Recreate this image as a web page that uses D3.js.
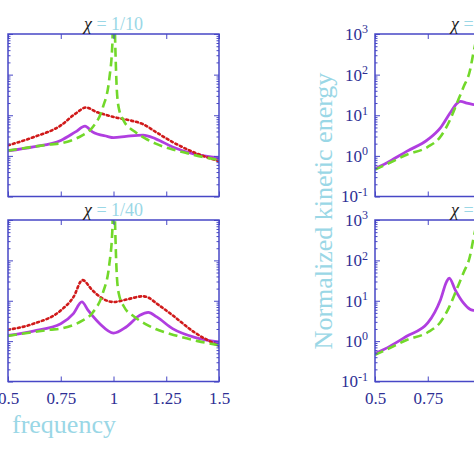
<!DOCTYPE html>
<html>
<head>
<meta charset="utf-8">
<script src="https://cdn.jsdelivr.net/npm/d3@7"></script>
<style>
  body { margin: 0; background: #fff; }
  svg { display: block; }
  text { font-family: "Liberation Serif", "Times New Roman", serif; }
</style>
</head>
<body>
<div id="chart"></div>
<script>
// tick values and panel titles
var freqTicks = [0.5, 0.75, 1, 1.25, 1.5];
var energyTicks = [0.1, 1, 10, 100, 1000];
var energyExp = ["-1", "0", "1", "2", "3"];
var chiLabels = ["1/10", "1/40"];

// left column, uncoupled (green dashed), same in both rows
var greenLeftF = [0.5, 0.6, 0.7, 0.75, 0.8, 0.85, 0.9, 0.95, 0.98, 0.995, 1.0, 1.008, 1.015, 1.025, 1.05, 1.1, 1.15, 1.2, 1.3, 1.4, 1.5];
var greenLeftV = [1.35, 1.62, 1.91, 2.04, 2.4, 3.16, 5.0, 15.8, 79, 630, 31600, 630, 50, 15.1, 7.1, 3.98, 2.69, 2.0, 1.35, 1.0, 0.79];

// left column, chi = 1/10
var purpleTopF = [0.5, 0.62, 0.75, 0.82, 0.865, 0.9, 0.97, 1.0, 1.06, 1.14, 1.2, 1.28, 1.38, 1.5];
var purpleTopV = [1.32, 1.66, 2.4, 3.89, 5.37, 3.89, 3.02, 2.82, 3.02, 3.24, 2.63, 1.66, 1.12, 0.89];
var redTopF = [0.5, 0.62, 0.75, 0.82, 0.87, 0.92, 0.97, 1.015, 1.09, 1.14, 1.2, 1.28, 1.38, 1.5];
var redTopV = [1.82, 2.88, 5.62, 10.96, 15.5, 12.0, 10.0, 8.71, 7.24, 6.03, 3.89, 2.19, 1.23, 0.74];

// left column, chi = 1/40
var purpleBotF = [0.5, 0.62, 0.75, 0.81, 0.85, 0.88, 0.935, 1.0, 1.06, 1.125, 1.165, 1.205, 1.28, 1.38, 1.5];
var purpleBotV = [1.38, 1.78, 2.69, 4.79, 9.33, 5.75, 2.69, 1.58, 2.24, 4.37, 5.13, 3.98, 2.04, 1.26, 0.95];
var redBotF = [0.5, 0.62, 0.75, 0.81, 0.853, 0.9, 0.95, 1.0, 1.06, 1.14, 1.165, 1.205, 1.28, 1.38, 1.5];
var redBotV = [1.91, 2.69, 5.75, 12.3, 32.4, 18.2, 11.2, 9.33, 10.7, 12.9, 12.0, 8.51, 4.37, 1.7, 0.76];

// right column (only the left part is visible)
var greenRightF = [0.5, 0.57, 0.65, 0.75, 0.81, 0.855, 0.89, 0.92, 0.95, 0.965, 0.98, 0.995, 1.0];
var greenRightV = [0.457, 0.676, 1.07, 1.66, 2.95, 7.59, 20.9, 50.1, 126, 316, 794, 3981, 100000];
var purpleRTopF = [0.5, 0.57, 0.65, 0.75, 0.81, 0.855, 0.89, 0.905, 0.935, 0.97, 1.0];
var purpleRTopV = [0.479, 0.741, 1.29, 2.51, 4.9, 11.2, 20.0, 21.9, 20.0, 18.2, 16.6];
var purpleRBotF = [0.5, 0.57, 0.65, 0.75, 0.81, 0.84, 0.852, 0.88, 0.92, 0.95, 0.97, 1.0];
var purpleRBotV = [0.49, 0.741, 1.32, 2.82, 10.5, 30.2, 36.3, 18.6, 8.71, 6.17, 5.75, 5.5];

function zip(f, v) {
  return f.map(function (d, i) { return { f: d, v: v[i] }; });
}

// colours
var frameColor = "#4747c6";
var tickText = "#2e2e94";
var labelColor = "#9ad7e6";
var styles = {
  purple: { stroke: "#b03ee0", dash: null },
  red: { stroke: "#d01a1a", dash: "2,3" },
  green: { stroke: "#72d82a", dash: "9,5" }
};

var W = 474, H = 474;
var svg = d3.select("#chart").append("svg")
  .attr("width", W).attr("height", H);

var cols = [{ x0: 8, x1: 219 }, { x0: 375, x1: 586 }];
var rows = [{ y0: 34, y1: 196.5 }, { y0: 220, y1: 381.5 }];

var panels = [
  { c: 0, r: 0, title: chiLabels[0], lines: [["purple", purpleTopF, purpleTopV], ["red", redTopF, redTopV], ["green", greenLeftF, greenLeftV]] },
  { c: 0, r: 1, title: chiLabels[1], lines: [["purple", purpleBotF, purpleBotV], ["red", redBotF, redBotV], ["green", greenLeftF, greenLeftV]] },
  { c: 1, r: 0, title: chiLabels[0], lines: [["purple", purpleRTopF, purpleRTopV], ["green", greenRightF, greenRightV]] },
  { c: 1, r: 1, title: chiLabels[1], lines: [["purple", purpleRBotF, purpleRBotV], ["green", greenRightF, greenRightV]] }
];

panels.forEach(function (p, pi) {
  var col = cols[p.c], row = rows[p.r];
  var x = d3.scaleLinear().domain([0.5, 1.5]).range([col.x0, col.x1]);
  var y = d3.scaleLog().domain([0.1, 1000]).range([row.y1, row.y0]);
  var g = svg.append("g");

  g.append("clipPath").attr("id", "clip" + pi)
    .append("rect")
    .attr("x", col.x0).attr("y", row.y0)
    .attr("width", col.x1 - col.x0).attr("height", row.y1 - row.y0);

  var line = d3.line()
    .x(function (d) { return x(d.f); })
    .y(function (d) { return y(d.v); })
    .curve(d3.curveMonotoneX);

  var lg = g.append("g").attr("clip-path", "url(#clip" + pi + ")");
  p.lines.forEach(function (l) {
    var s = styles[l[0]];
    lg.append("path")
      .datum(zip(l[1], l[2]))
      .attr("d", line)
      .attr("fill", "none")
      .attr("stroke", s.stroke)
      .attr("stroke-width", l[0] === "purple" ? 2.8 : 2.6)
      .attr("stroke-dasharray", s.dash)
      .attr("stroke-linecap", l[0] === "red" ? "round" : "butt");
  });

  // frame
  g.append("rect")
    .attr("x", col.x0).attr("y", row.y0)
    .attr("width", col.x1 - col.x0).attr("height", row.y1 - row.y0)
    .attr("fill", "none").attr("stroke", frameColor).attr("stroke-width", 1.5);

  var minor = y.ticks().filter(function (t) { return energyTicks.indexOf(t) < 0; });

  // x axes (inward ticks); only labels that fall inside the crop
  var labelled = freqTicks.filter(function (t) { return x(t) < W - 4; });
  g.append("g").attr("transform", "translate(0," + row.y1 + ")")
    .call(d3.axisBottom(x).tickValues(freqTicks).tickSize(-5).tickPadding(10)
      .tickFormat(function (d) {
        return p.r === 1 && labelled.indexOf(d) >= 0 ? String(d) : "";
      }));
  g.append("g").attr("transform", "translate(0," + row.y0 + ")")
    .call(d3.axisTop(x).tickValues(freqTicks).tickSize(-5).tickFormat(""));

  // y axes: decades and minor log ticks, both sides
  var left = g.append("g").attr("transform", "translate(" + col.x0 + ",0)")
    .call(d3.axisLeft(y).tickValues(energyTicks).tickSize(-5).tickPadding(7)
      .tickFormat(function () { return "10"; }));
  g.append("g").attr("transform", "translate(" + col.x0 + ",0)")
    .call(d3.axisLeft(y).tickValues(minor).tickSize(-2.5).tickFormat(""));
  g.append("g").attr("transform", "translate(" + col.x1 + ",0)")
    .call(d3.axisRight(y).tickValues(energyTicks).tickSize(-5).tickFormat(""));
  g.append("g").attr("transform", "translate(" + col.x1 + ",0)")
    .call(d3.axisRight(y).tickValues(minor).tickSize(-2.5).tickFormat(""));

  g.selectAll(".domain").remove();
  g.selectAll(".tick line").attr("stroke", frameColor).attr("stroke-width", 1);
  g.selectAll(".tick text").attr("fill", tickText).attr("font-size", 17)
    .attr("font-family", "Liberation Serif, serif");

  // superscripts on the right column only (left labels fall outside the crop)
  if (p.c === 1) {
    left.selectAll(".tick text").each(function (d, i) {
      d3.select(this).append("tspan")
        .attr("dy", "-0.55em").attr("font-size", 12)
        .text(energyExp[i]);
    });
  } else {
    left.selectAll(".tick text").remove();
  }

  // title (the right column's is cut by the crop, keep what fits)
  var t = g.append("text")
    .attr("x", (col.x0 + col.x1) / 2).attr("y", row.y0 - 4)
    .attr("text-anchor", "middle").attr("font-size", 18);
  t.append("tspan").attr("fill", "#222").attr("font-style", "italic").text("\u03c7");
  t.append("tspan").attr("fill", labelColor).text(" = " + p.title);
});

// axis labels
svg.append("text")
  .attr("x", 12).attr("y", 433)
  .attr("fill", labelColor).attr("font-size", 26)
  .text("frequency");

svg.append("text")
  .attr("transform", "translate(332,211) rotate(-90)")
  .attr("text-anchor", "middle")
  .attr("fill", labelColor).attr("font-size", 26)
  .text("Normalized kinetic energy");
</script>
</body>
</html>
